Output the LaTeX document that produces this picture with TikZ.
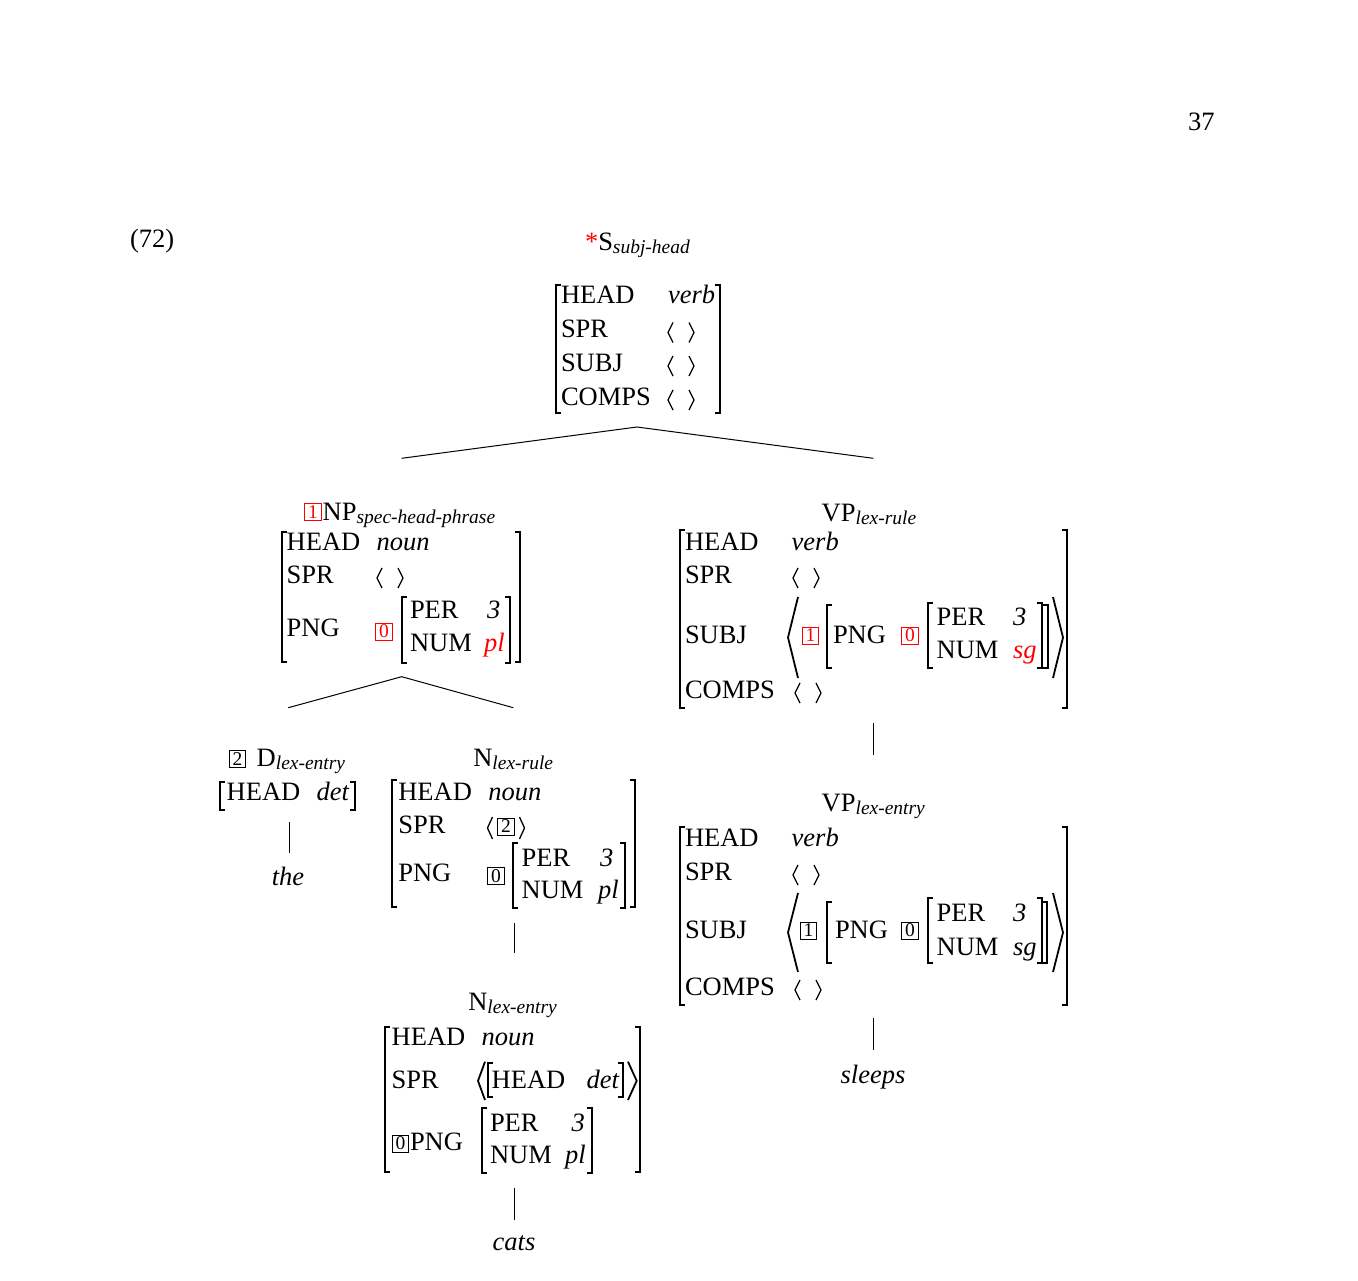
\documentclass[tikz,border=0pt]{standalone}
\usepackage{fontspec}
\setmainfont{Liberation Serif}
\newcommand\lblsub[1]{\raisebox{-3pt}{\fontsize{19.5}{20}\selectfont\itshape #1}}
\newcommand\avmL[3]{\draw[brk] (#1+5,#2) -- (#1,#2) -- (#1,#3) -- (#1+5,#3);}
\newcommand\avmR[3]{\draw[brk] (#1-5,#2) -- (#1,#2) -- (#1,#3) -- (#1-5,#3);}
\newcommand\avmAng[4]{\draw[bigang] (#2,#3) -- (#1,{(#3+#4)/2}) -- (#2,#4);}
\newcommand\avmNil[2]{\draw[ang] (#1+5,#2-15) -- (#1,#2-5) -- (#1+5,#2+5);
  \draw[ang] (#1+21,#2-15) -- (#1+26,#2-5) -- (#1+21,#2+5);}
\begin{document}
\begin{tikzpicture}[x=1pt,y=-1pt,
  every node/.style={inner sep=0pt, outer sep=0pt, anchor=base west},
  txt/.style={font=\fontsize{26.5}{30}\selectfont},
  val/.style={font=\fontsize{26.5}{30}\selectfont\itshape},
  redval/.style={val, text=red},
  word/.style={val, anchor=base},
  tagr/.style={draw=red, text=red, line width=0.9pt, anchor=center, minimum width=16.5pt, minimum height=17pt, font=\fontsize{19.5}{19.5}\selectfont},
  tagk/.style={tagr, draw=black, text=black},
  brk/.style={line width=1.8pt},
  ang/.style={line width=1.3pt},
  bigang/.style={line width=1.8pt},
  edge/.style={line width=1pt}]
\fill[white] (0,0) rectangle (1358,1281);
\useasboundingbox (0,0) rectangle (1358,1281);

\node[txt] (pagenum) at (1188,131) {37};
\node[txt] (exnum) at (130,248) {(72)};

% ---- S subj-head
\node[txt] (s-lab) at (585,251) {{\color{red}*}S\lblsub{subj-head}};
\node[txt] (s-head) at (561,303.5) {HEAD};
\node[val] (s-headv) at (668,303.5) {verb};
\node[txt] (s-spr) at (561,337.5) {SPR}; \avmNil{668}{337.5}
\node[txt] (s-subj) at (561,371) {SUBJ}; \avmNil{668}{371}
\node[txt] (s-comps) at (561,405) {COMPS}; \avmNil{668}{405}
\avmL{556}{285}{413} \avmR{720}{285}{413}

\coordinate (s-bot) at (637,427);
\coordinate (np-top) at (401.7,458.3);
\coordinate (vpr-top) at (873.3,458.3);
\draw[edge] (np-top) -- (s-bot) -- (vpr-top);

% ---- NP spec-head-phrase
\node[tagr] (np-tag) at (313,512) {1};
\node[txt] (np-lab) at (322.7,520) {NP\lblsub{spec-head-phrase}};
\node[txt] (np-head) at (286.7,550) {HEAD};
\node[val] (np-headv) at (376.7,550) {noun};
\node[txt] (np-spr) at (286.7,583) {SPR}; \avmNil{377}{583}
\node[txt] (np-png) at (286.7,636.7) {PNG};
\node[tagr] (np-tag0) at (384,631.5) {0};
\avmL{401.7}{597}{663}
\node[txt] (np-per) at (410,618) {PER};
\node[val] (np-perv) at (487,618) {3};
\node[txt] (np-num) at (410,651.7) {NUM};
\node[redval] (np-numv) at (484,651.7) {pl};
\avmR{510}{597}{663}
\avmL{281.7}{532}{662} \avmR{520}{532}{662}

\coordinate (np-bot) at (401.7,676.7);
\coordinate (d-top) at (288.3,707.7);
\coordinate (nr-top) at (513.3,707.7);
\draw[edge] (d-top) -- (np-bot) -- (nr-top);

% ---- VP lex-rule
\node[txt] (vpr-lab) at (821.7,521) {VP\lblsub{lex-rule}};
\node[txt] (vpr-head) at (685,550) {HEAD};
\node[val] (vpr-headv) at (791.7,550) {verb};
\node[txt] (vpr-spr) at (685,583) {SPR}; \avmNil{793}{583}
\node[txt] (vpr-subj) at (685,643) {SUBJ};
\node[txt] (vpr-comps) at (685,698) {COMPS}; \avmNil{795}{698}
\avmAng{788}{798}{597}{678}
\node[tagr] (vpr-tag1) at (810.5,635.5) {1};
\avmL{826.7}{605}{668}
\node[txt] (vpr-png) at (833,643) {PNG};
\node[tagr] (vpr-tag0) at (910,635.5) {0};
\avmL{928}{603}{668}
\node[txt] (vpr-per) at (936.7,625) {PER};
\node[val] (vpr-perv) at (1013,625) {3};
\node[txt] (vpr-num) at (936.7,658) {NUM};
\node[redval] (vpr-numv) at (1013,658) {sg};
\avmR{1041.7}{603}{668} \avmR{1048}{605}{668}
\avmAng{1063}{1053}{597}{678}
\avmL{680}{530}{708} \avmR{1066.7}{530}{708}

\coordinate (vpr-bot) at (873.3,723);
\coordinate (vpe-top) at (873.3,755);
\draw[edge] (vpr-bot) -- (vpe-top);

% ---- VP lex-entry
\node[txt] (vpe-lab) at (821.7,811.7) {VP\lblsub{lex-entry}};
\node[txt] (vpe-head) at (685,846.7) {HEAD};
\node[val] (vpe-headv) at (791.7,846.7) {verb};
\node[txt] (vpe-spr) at (685,880) {SPR}; \avmNil{793}{880}
\node[txt] (vpe-subj) at (685,938) {SUBJ};
\node[txt] (vpe-comps) at (685,995) {COMPS}; \avmNil{795}{995}
\avmAng{788}{798}{893}{972}
\node[tagk] (vpe-tag1) at (808.5,930.5) {1};
\avmL{826.7}{901.7}{963}
\node[txt] (vpe-png) at (835,938) {PNG};
\node[tagk] (vpe-tag0) at (910,930.5) {0};
\avmL{928}{898}{963}
\node[txt] (vpe-per) at (936.7,921.7) {PER};
\node[val] (vpe-perv) at (1013,921.7) {3};
\node[txt] (vpe-num) at (936.7,955) {NUM};
\node[val] (vpe-numv) at (1013,955) {sg};
\avmR{1041.7}{898}{963} \avmR{1046.7}{901.7}{963}
\avmAng{1063}{1053}{893}{972}
\avmL{680}{826.7}{1005} \avmR{1066.7}{826.7}{1005}

\coordinate (vpe-bot) at (873.3,1018);
\coordinate (sleeps-top) at (873.3,1050);
\draw[edge] (vpe-bot) -- (sleeps-top);
\node[word] (sleeps) at (873,1083.3) {sleeps};

% ---- D lex-entry
\node[tagk] (d-tag) at (237.5,759) {2};
\node[txt] (d-lab) at (256.7,766.7) {D\lblsub{lex-entry}};
\avmL{220}{781.7}{810}
\node[txt] (d-head) at (226.7,800) {HEAD};
\node[val] (d-headv) at (316.7,800) {det};
\avmR{355}{781.7}{810}
\coordinate (d-bot) at (289,822);
\coordinate (the-top) at (289,853);
\draw[edge] (d-bot) -- (the-top);
\node[word] (the) at (288,885) {the};

% ---- N lex-rule
\node[txt] (nr-lab) at (473.3,766.7) {N\lblsub{lex-rule}};
\node[txt] (nr-head) at (398.3,800) {HEAD};
\node[val] (nr-headv) at (488.3,800) {noun};
\node[txt] (nr-spr) at (398.3,833.3) {SPR};
\draw[ang] (492.5,817) -- (487.5,828) -- (492.5,839);
\node[tagk] (nr-tag2) at (506,826.5) {2};
\draw[ang] (519.5,817) -- (524.5,828) -- (519.5,839);
\node[txt] (nr-png) at (398.3,881.7) {PNG};
\node[tagk] (nr-tag0) at (496,876) {0};
\avmL{513.3}{843}{908}
\node[txt] (nr-per) at (521.7,866.7) {PER};
\node[val] (nr-perv) at (600,866.7) {3};
\node[txt] (nr-num) at (521.7,898.3) {NUM};
\node[val] (nr-numv) at (598,898.3) {pl};
\avmR{625}{843}{908}
\avmL{391.7}{780}{906.7} \avmR{635}{780}{906.7}
\coordinate (nr-bot) at (514,923);
\coordinate (ne-top) at (514,953);
\draw[edge] (nr-bot) -- (ne-top);

% ---- N lex-entry
\node[txt] (ne-lab) at (468.3,1010) {N\lblsub{lex-entry}};
\node[txt] (ne-head) at (391.7,1045) {HEAD};
\node[val] (ne-headv) at (481.7,1045) {noun};
\node[txt] (ne-spr) at (391.7,1088.3) {SPR};
\avmAng{478}{485}{1061.7}{1100}
\avmL{488.3}{1063}{1097}
\node[txt] (ne-sprh) at (491.7,1088.3) {HEAD};
\node[val] (ne-sprv) at (586.7,1088.3) {det};
\avmR{623.3}{1063}{1097}
\avmAng{636.7}{628}{1061.7}{1100}
\node[tagk] (ne-tag0) at (400.5,1143.5) {0};
\node[txt] (ne-png) at (410,1150) {PNG};
\avmL{481.7}{1108}{1173}
\node[txt] (ne-per) at (490,1131.7) {PER};
\node[val] (ne-perv) at (571.7,1131.7) {3};
\node[txt] (ne-num) at (490,1163.3) {NUM};
\node[val] (ne-numv) at (565,1163.3) {pl};
\avmR{591.7}{1108}{1173}
\avmL{385}{1026.7}{1171.7} \avmR{640}{1026.7}{1171.7}
\coordinate (ne-bot) at (514,1188);
\coordinate (cats-top) at (514,1220);
\draw[edge] (ne-bot) -- (cats-top);
\node[word] (cats) at (514,1250) {cats};
\end{tikzpicture}
\end{document}
